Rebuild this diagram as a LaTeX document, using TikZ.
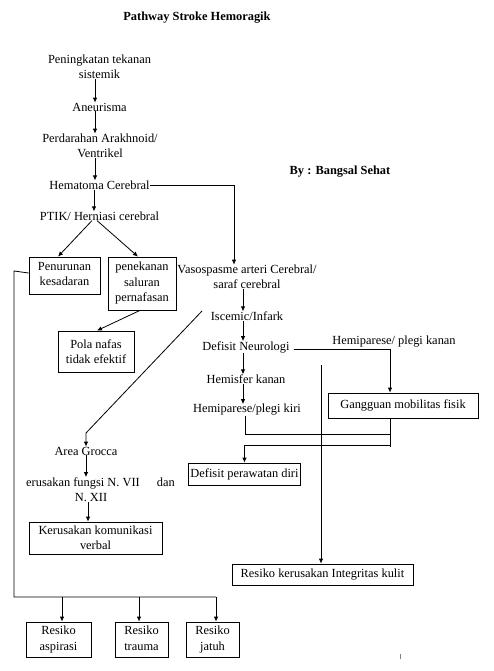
\documentclass[tikz,border=0pt]{standalone}
\usepackage{fontspec}
\setmainfont{Liberation Serif}
\usetikzlibrary{arrows.meta}
\begin{document}
\begin{tikzpicture}[x=1pt,y=-1pt,
  every node/.style={font=\fontsize{12.4}{15.5}\selectfont, inner sep=0pt, align=center},
  box/.style={draw, line width=0.8pt, inner sep=2pt},
  ln/.style={line width=0.8pt},
  arr/.style={ln, -{Latex[length=5pt,width=4.5pt]}},
  ttl/.style={font=\fontsize{12.4}{15.5}\selectfont\bfseries}]
\useasboundingbox (0,0) rectangle (493,671);
% texts
\node[ttl] (title) at (197,18) {Pathway Stroke Hemoragik};
\node[ttl] (by) at (340,172) {By : Bangsal Sehat};
\node (n1) at (99.5,67) {Peningkatan tekanan\\sistemik};
\node (n2) at (99.5,107) {Aneurisma};
\node (n3) at (100,146) {Perdarahan Arakhnoid/\\Ventrikel};
\node (n4) at (99.5,185) {Hematoma Cerebral};
\node (n5) at (99.5,216) {PTIK/ Herniasi cerebral};
\node[box, minimum width=71, minimum height=37] (b1) at (64.5,275.5) {Penurunan\\kesadaran\vphantom{p}};
\node[box, minimum width=68, minimum height=53] (b2) at (142,283.5) {penekanan\\saluran\\pernafasan};
\node (vaso) at (247,277) {Vasospasme arteri Cerebral/\\saraf cerebral};
\node (isc) at (247,316) {Iscemic/Infark};
\node[box, minimum width=76, minimum height=41] (b3) at (96,351.5) {Pola nafas\\tidak efektif};
\node (def) at (246,347) {Defisit Neurologi};
\node (hkanan) at (394,342) {Hemiparese/ plegi kanan};
\node (hsf) at (246,379) {Hemisfer kanan};
\node (hkiri) at (247,410) {Hemiparese/plegi kiri};
\node[box, minimum width=150, minimum height=25] (gang) at (403,405.5) {Gangguan mobilitas fisik};
\node[box, minimum width=109, minimum height=22] (dpd) at (244.5,474) {Defisit perawatan diri};
\node (area) at (86,451) {Area Grocca};
\node[anchor=west] (krs) at (26,483) {erusakan fungsi N. VII\hspace{17pt}dan};
\node (krs2) at (91,498) {N. XII};
\node[box, minimum width=133, minimum height=32] (b4) at (95.5,538) {Kerusakan komunikasi\\verbal};
\node[box, minimum width=181, minimum height=21] (rk) at (322.5,574.5) {Resiko kerusakan Integritas kulit};
\node[box, minimum width=65, minimum height=35] (r1) at (58.5,639.5) {Resiko\\aspirasi};
\node[box, minimum width=53, minimum height=35] (r2) at (141.5,639.5) {Resiko\\trauma\vphantom{p}};
\node[box, minimum width=53, minimum height=35] (r3) at (212.5,639.5) {Resiko\\jatuh\vphantom{p}};
% coordinates
\coordinate (xa) at (95,0);
\coordinate (xb) at (243,0);
\coordinate (xc) at (86,0);
\coordinate (xd) at (88,0);
\coordinate (xe) at (245,0);
\coordinate (j1) at (390,434);
\coordinate (j2) at (390,445);
\coordinate (j3) at (390,447);
\coordinate (d0) at (202,311);
\coordinate (d1) at (86,433);
\coordinate (v0) at (321,365);
\coordinate (c1) at (14,271);
\coordinate (t1) at (62,597);
\coordinate (t2) at (139,597);
\coordinate (t3) at (216,597);
\coordinate (c2) at (14,597);
% connectors
\draw[arr] (n1.south -| xa) -- (n2.north -| xa);
\draw[arr] (n2.south -| xa) -- (n3.north -| xa);
\draw[arr] (n3.south -| xa) -- (n4.north -| xa);
\draw[arr] ([xshift=-1pt]n4.south -| xa) -- ([xshift=-1pt]n5.north -| xa);
\draw[arr] (n4.east) -| ([xshift=-13pt]vaso.north);
\draw[arr] ([xshift=-7.5pt]n5.south) -- ([xshift=-6.5pt]b1.north);
\draw[arr] ([xshift=-2.5pt]n5.south) -- ([xshift=-4pt]b2.north);
\draw[arr] ([xshift=-2pt]b2.south) -- ([xshift=1pt]b3.north);
\draw[arr] (vaso.south -| xb) -- (isc.north -| xb);
\draw[arr] (isc.south -| xb) -- (def.north -| xb);
\draw[arr] ([xshift=4pt,yshift=-2pt]def.east) -| ([xshift=-13pt]gang.north);
\draw[arr] (def.south -| xb) -- (hsf.north -| xb);
\draw[arr] (hsf.south -| xb) -- (hkiri.north -| xb);
\draw[ln] (hkiri.south -| xe) |- (j1);
\draw[ln] ([xshift=-13pt]gang.south) -- (j3);
\draw[arr] (j2) -| (dpd.north);
\draw[arr] (d0) -- (d1) -- (area.north);
\draw[arr] (area.south -| xc) -- (krs.north -| xc);
\draw[arr] (krs2.south -| xd) -- (b4.north -| xd);
\draw[arr] (v0) -- (v0 |- rk.north);
\draw[ln] ([yshift=2.5pt]b1.west) -- (c1) -- (c2) -- (t3);
\draw[arr] (t1) -- (t1 |- r1.north);
\draw[arr] (t2) -- (t2 |- r2.north);
\draw[arr] (t3) -- (t3 |- r3.north);
\draw[gray, line width=0.6pt] (400,654) -- (400,659);
\end{tikzpicture}
\end{document}
